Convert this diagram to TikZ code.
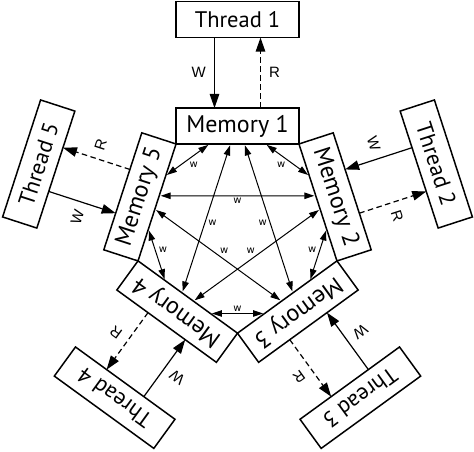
\documentclass[tikz,border=0pt]{standalone}
\usepackage{fontspec}
\setmainfont{PT Sans}
\newfontfamily\labfont{Liberation Sans}
\newfontfamily\wfont{DejaVu Sans}
\usetikzlibrary{arrows.meta,calc}
\begin{document}
\begin{tikzpicture}[x=1pt,y=1pt,
  box/.style={draw, line width=1.5pt, minimum width=123pt, minimum height=36pt,
    inner sep=0pt, outer sep=0pt},
  membox/.style={box, font={\fontsize{24}{24}\selectfont}},
  thbox/.style={box, font={\fontsize{22.5}{22.5}\selectfont}},
  rwlab/.style={font={\labfont\fontsize{15}{15}\selectfont}, inner sep=0pt},
  warrow/.style={line width=1.2pt, -{Triangle[length=14pt,width=9.5pt]}},
  rarrow/.style={warrow, dash pattern=on 5.5pt off 3.5pt},
  inarrow/.style={line width=1pt, {Triangle[length=10pt,width=6.5pt]}-{Triangle[length=10pt,width=6.5pt]},
    shorten >=1.5pt, shorten <=1.5pt},
  wlab/.style={font={\wfont\fontsize{10}{10}\selectfont}, inner sep=1.5pt, auto=right, midway}
]
\useasboundingbox (0,0) rectangle (474,452);
\coordinate (C) at (237.5,223.4);
\foreach \k in {1,...,5}{
  \begin{scope}[shift={(C)}, rotate={-72*(\k-1)}, transform shape]
    \node[membox] (m\k) at (0,102.6) {Memory \k};
    \node[thbox] (t\k) at (0,209) {Thread \k};
    \draw[warrow] ($(t\k.south west)!0.313!(t\k.south east)$) -- node[rwlab, left=8pt]{W} ($(m\k.north west)!0.313!(m\k.north east)$);
    \draw[rarrow] ($(m\k.north west)!0.687!(m\k.north east)$) -- node[rwlab, right=8pt]{R} ($(t\k.south west)!0.687!(t\k.south east)$);
  \end{scope}
}
\foreach \k in {1,...,5}{
  \coordinate (a\k) at ($(m\k.south west)!0.2724!(m\k.south east)$);
  \coordinate (b\k) at ($(m\k.south west)!0.443!(m\k.south east)$);
  \coordinate (c\k) at ($(m\k.south west)!0.557!(m\k.south east)$);
  \coordinate (d\k) at ($(m\k.south west)!0.7276!(m\k.south east)$);
}
\draw[inarrow] (d1) -- node[wlab]{w} (a2);
\draw[inarrow] (d2) -- node[wlab]{w} (a3);
\draw[inarrow] (d3) -- node[wlab]{w} (a4);
\draw[inarrow] (d4) -- node[wlab]{w} (a5);
\draw[inarrow] (d5) -- node[wlab]{w} (a1);
\draw[inarrow] (c1) -- node[wlab]{w} (b3);
\draw[inarrow] (c2) -- node[wlab]{w} (b4);
\draw[inarrow] (c3) -- node[wlab]{w} (b5);
\draw[inarrow] (c4) -- node[wlab]{w} (b1);
\draw[inarrow] (c5) -- node[wlab]{w} (b2);
\end{tikzpicture}
\end{document}
